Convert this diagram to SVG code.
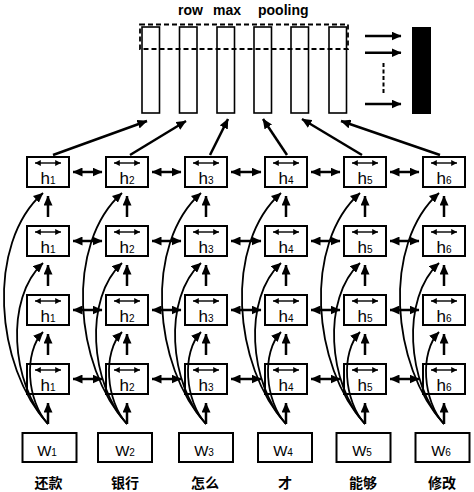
<svg xmlns="http://www.w3.org/2000/svg" width="474" height="492" viewBox="0 0 474 492">
<style>
.box{fill:#fff;stroke:#000;stroke-width:2}
.col{fill:#fff;stroke:#000;stroke-width:1.6}
.arr{fill:none;stroke:#000;stroke-width:2.5;marker-end:url(#ah)}
.dbl{fill:none;stroke:#000;stroke-width:2.5;marker-end:url(#ah);marker-start:url(#ahs)}
.inner{fill:none;stroke:#000;stroke-width:1.4;marker-end:url(#sm);marker-start:url(#sms)}
.cur{fill:none;stroke:#000;stroke-width:1.8;marker-end:url(#ah)}
.h{font-family:"Liberation Sans",Arial,sans-serif;font-size:17px;text-anchor:middle}
.w{font-family:"Liberation Sans",Arial,sans-serif;font-size:15px;text-anchor:middle}
.sub{font-size:10px}
.zh{font-family:"Noto Sans CJK SC",sans-serif;font-size:14px;font-weight:bold;text-anchor:middle}
.title{font-family:"Liberation Sans",Arial,sans-serif;font-size:14px;font-weight:bold}
</style>
<defs>
<marker id="ah" markerUnits="userSpaceOnUse" markerWidth="10" markerHeight="9" viewBox="0 0 10 9" refX="9.5" refY="4.5" orient="auto"><path d="M0,0 L10,4.5 L0,9 z" fill="#000"/></marker>
<marker id="ahs" markerUnits="userSpaceOnUse" markerWidth="10" markerHeight="9" viewBox="0 0 10 9" refX="9.5" refY="4.5" orient="auto-start-reverse"><path d="M0,0 L10,4.5 L0,9 z" fill="#000"/></marker>
<marker id="sm" markerUnits="userSpaceOnUse" markerWidth="6" markerHeight="6" viewBox="0 0 6 6" refX="5.8" refY="3" orient="auto"><path d="M0,0 L6,3 L0,6 z" fill="#000"/></marker>
<marker id="sms" markerUnits="userSpaceOnUse" markerWidth="6" markerHeight="6" viewBox="0 0 6 6" refX="5.8" refY="3" orient="auto-start-reverse"><path d="M0,0 L6,3 L0,6 z" fill="#000"/></marker>
</defs>

<text class="title" y="15"><tspan x="178">row</tspan><tspan x="213">max</tspan><tspan x="258">pooling</tspan></text>

<g id="pooling">
<rect class="col" x="142" y="27" width="17.5" height="86"/>
<rect class="col" x="179.5" y="27" width="17.5" height="86"/>
<rect class="col" x="217" y="27" width="17.5" height="86"/>
<rect class="col" x="254" y="27" width="17.5" height="86"/>
<rect class="col" x="291" y="27" width="17.5" height="86"/>
<rect class="col" x="329" y="27" width="17.5" height="86"/>
<rect x="140" y="24.5" width="208" height="24.5" fill="none" stroke="#000" stroke-width="1.8" stroke-dasharray="5,3"/>
</g>

<g id="output">
<rect x="412" y="27" width="19" height="87" fill="#000"/>
</g>

<g id="h-layer4">
<g id="h4-1"><rect class="box" x="27" y="157" width="42" height="30"/><text class="h" x="48" y="184">h<tspan class="sub">1</tspan></text></g>
<g id="h4-2"><rect class="box" x="106" y="157" width="42" height="30"/><text class="h" x="127" y="184">h<tspan class="sub">2</tspan></text></g>
<g id="h4-3"><rect class="box" x="185" y="157" width="42" height="30"/><text class="h" x="206" y="184">h<tspan class="sub">3</tspan></text></g>
<g id="h4-4"><rect class="box" x="265" y="157" width="42" height="30"/><text class="h" x="286" y="184">h<tspan class="sub">4</tspan></text></g>
<g id="h4-5"><rect class="box" x="344" y="157" width="42" height="30"/><text class="h" x="365" y="184">h<tspan class="sub">5</tspan></text></g>
<g id="h4-6"><rect class="box" x="423" y="157" width="42" height="30"/><text class="h" x="444" y="184">h<tspan class="sub">6</tspan></text></g>
</g>
<g id="h-layer3">
<g id="h3-1"><rect class="box" x="27" y="226" width="42" height="30"/><text class="h" x="48" y="253">h<tspan class="sub">1</tspan></text></g>
<g id="h3-2"><rect class="box" x="106" y="226" width="42" height="30"/><text class="h" x="127" y="253">h<tspan class="sub">2</tspan></text></g>
<g id="h3-3"><rect class="box" x="185" y="226" width="42" height="30"/><text class="h" x="206" y="253">h<tspan class="sub">3</tspan></text></g>
<g id="h3-4"><rect class="box" x="265" y="226" width="42" height="30"/><text class="h" x="286" y="253">h<tspan class="sub">4</tspan></text></g>
<g id="h3-5"><rect class="box" x="344" y="226" width="42" height="30"/><text class="h" x="365" y="253">h<tspan class="sub">5</tspan></text></g>
<g id="h3-6"><rect class="box" x="423" y="226" width="42" height="30"/><text class="h" x="444" y="253">h<tspan class="sub">6</tspan></text></g>
</g>
<g id="h-layer2">
<g id="h2-1"><rect class="box" x="27" y="295" width="42" height="30"/><text class="h" x="48" y="322">h<tspan class="sub">1</tspan></text></g>
<g id="h2-2"><rect class="box" x="106" y="295" width="42" height="30"/><text class="h" x="127" y="322">h<tspan class="sub">2</tspan></text></g>
<g id="h2-3"><rect class="box" x="185" y="295" width="42" height="30"/><text class="h" x="206" y="322">h<tspan class="sub">3</tspan></text></g>
<g id="h2-4"><rect class="box" x="265" y="295" width="42" height="30"/><text class="h" x="286" y="322">h<tspan class="sub">4</tspan></text></g>
<g id="h2-5"><rect class="box" x="344" y="295" width="42" height="30"/><text class="h" x="365" y="322">h<tspan class="sub">5</tspan></text></g>
<g id="h2-6"><rect class="box" x="423" y="295" width="42" height="30"/><text class="h" x="444" y="322">h<tspan class="sub">6</tspan></text></g>
</g>
<g id="h-layer1">
<g id="h1-1"><rect class="box" x="27" y="364" width="42" height="30"/><text class="h" x="48" y="391">h<tspan class="sub">1</tspan></text></g>
<g id="h1-2"><rect class="box" x="106" y="364" width="42" height="30"/><text class="h" x="127" y="391">h<tspan class="sub">2</tspan></text></g>
<g id="h1-3"><rect class="box" x="185" y="364" width="42" height="30"/><text class="h" x="206" y="391">h<tspan class="sub">3</tspan></text></g>
<g id="h1-4"><rect class="box" x="265" y="364" width="42" height="30"/><text class="h" x="286" y="391">h<tspan class="sub">4</tspan></text></g>
<g id="h1-5"><rect class="box" x="344" y="364" width="42" height="30"/><text class="h" x="365" y="391">h<tspan class="sub">5</tspan></text></g>
<g id="h1-6"><rect class="box" x="423" y="364" width="42" height="30"/><text class="h" x="444" y="391">h<tspan class="sub">6</tspan></text></g>
</g>

<g id="inputs">
<g id="w1"><rect class="box" x="22.5" y="433" width="54" height="29"/><text class="w" x="47" y="456">W<tspan class="sub">1</tspan></text><text class="zh" x="48.5" y="488">还款</text></g>
<g id="w2"><rect class="box" x="98" y="433" width="54" height="29"/><text class="w" x="125" y="456">W<tspan class="sub">2</tspan></text><text class="zh" x="125" y="488">银行</text></g>
<g id="w3"><rect class="box" x="179" y="433" width="54" height="29"/><text class="w" x="204" y="456">W<tspan class="sub">3</tspan></text><text class="zh" x="205" y="488">怎么</text></g>
<g id="w4"><rect class="box" x="258" y="433" width="54" height="29"/><text class="w" x="283" y="456">W<tspan class="sub">4</tspan></text><text class="zh" x="285" y="488">才</text></g>
<g id="w5"><rect class="box" x="336.5" y="433" width="54" height="29"/><text class="w" x="362" y="456">W<tspan class="sub">5</tspan></text><text class="zh" x="363" y="488">能够</text></g>
<g id="w6"><rect class="box" x="415.5" y="433" width="54" height="29"/><text class="w" x="441" y="456">W<tspan class="sub">6</tspan></text><text class="zh" x="442" y="488">修改</text></g>
</g>

<g id="connectors">
<g id="inner">
<path class="inner" d="M35,163 H61"/><path class="inner" d="M114,163 H140"/><path class="inner" d="M193,163 H219"/><path class="inner" d="M273,163 H299"/><path class="inner" d="M352,163 H378"/><path class="inner" d="M431,163 H457"/>
<path class="inner" d="M35,232 H61"/><path class="inner" d="M114,232 H140"/><path class="inner" d="M193,232 H219"/><path class="inner" d="M273,232 H299"/><path class="inner" d="M352,232 H378"/><path class="inner" d="M431,232 H457"/>
<path class="inner" d="M35,301 H61"/><path class="inner" d="M114,301 H140"/><path class="inner" d="M193,301 H219"/><path class="inner" d="M273,301 H299"/><path class="inner" d="M352,301 H378"/><path class="inner" d="M431,301 H457"/>
<path class="inner" d="M35,370 H61"/><path class="inner" d="M114,370 H140"/><path class="inner" d="M193,370 H219"/><path class="inner" d="M273,370 H299"/><path class="inner" d="M352,370 H378"/><path class="inner" d="M431,370 H457"/>
</g>
<g id="horizontal">
<path class="dbl" d="M73,172 H102"/><path class="dbl" d="M152,172 H181"/><path class="dbl" d="M231,172 H261"/><path class="dbl" d="M311,172 H340"/><path class="dbl" d="M390,172 H419"/>
<path class="dbl" d="M73,241 H102"/><path class="dbl" d="M152,241 H181"/><path class="dbl" d="M231,241 H261"/><path class="dbl" d="M311,241 H340"/><path class="dbl" d="M390,241 H419"/>
<path class="dbl" d="M73,310 H102"/><path class="dbl" d="M152,310 H181"/><path class="dbl" d="M231,310 H261"/><path class="dbl" d="M311,310 H340"/><path class="dbl" d="M390,310 H419"/>
<path class="dbl" d="M73,379 H102"/><path class="dbl" d="M152,379 H181"/><path class="dbl" d="M231,379 H261"/><path class="dbl" d="M311,379 H340"/><path class="dbl" d="M390,379 H419"/>
</g>
<g id="vertical">
<path class="arr" d="M48,424 V403"/><path class="arr" d="M48,355 V334"/><path class="arr" d="M48,286 V265"/><path class="arr" d="M48,217 V196"/>
<path class="arr" d="M127,424 V403"/><path class="arr" d="M127,355 V334"/><path class="arr" d="M127,286 V265"/><path class="arr" d="M127,217 V196"/>
<path class="arr" d="M206,424 V403"/><path class="arr" d="M206,355 V334"/><path class="arr" d="M206,286 V265"/><path class="arr" d="M206,217 V196"/>
<path class="arr" d="M286,424 V403"/><path class="arr" d="M286,355 V334"/><path class="arr" d="M286,286 V265"/><path class="arr" d="M286,217 V196"/>
<path class="arr" d="M365,424 V403"/><path class="arr" d="M365,355 V334"/><path class="arr" d="M365,286 V265"/><path class="arr" d="M365,217 V196"/>
<path class="arr" d="M444,424 V403"/><path class="arr" d="M444,355 V334"/><path class="arr" d="M444,286 V265"/><path class="arr" d="M444,217 V196"/>
</g>
<g id="skip">
<path class="cur" d="M48,424 C26.9,401 23.2,352.2 43,332"/>
<path class="cur" d="M48,424 C11,383.75 4.5,298.4 43,263"/>
<path class="cur" d="M48,424 C-5,366.25 -14.4,243.8 43,193"/>
<path class="cur" d="M127,424 C105.9,401 102.2,352.2 122,332"/>
<path class="cur" d="M127,424 C90,383.75 83.5,298.4 122,263"/>
<path class="cur" d="M127,424 C74,366.25 64.6,243.8 122,193"/>
<path class="cur" d="M206,424 C184.9,401 181.2,352.2 201,332"/>
<path class="cur" d="M206,424 C169,383.75 162.5,298.4 201,263"/>
<path class="cur" d="M206,424 C153,366.25 143.6,243.8 201,193"/>
<path class="cur" d="M286,424 C264.9,401 261.2,352.2 281,332"/>
<path class="cur" d="M286,424 C249,383.75 242.5,298.4 281,263"/>
<path class="cur" d="M286,424 C233,366.25 223.6,243.8 281,193"/>
<path class="cur" d="M365,424 C343.9,401 340.2,352.2 360,332"/>
<path class="cur" d="M365,424 C328,383.75 321.5,298.4 360,263"/>
<path class="cur" d="M365,424 C312,366.25 302.6,243.8 360,193"/>
<path class="cur" d="M444,424 C422.9,401 419.2,352.2 439,332"/>
<path class="cur" d="M444,424 C407,383.75 400.5,298.4 439,263"/>
<path class="cur" d="M444,424 C391,366.25 381.6,243.8 439,193"/>
</g>
<g id="to-pool">
<path class="arr" d="M53,155 L147,121"/>
<path class="arr" d="M130,155 L186,121"/>
<path class="arr" d="M210,155 L228,119"/>
<path class="arr" d="M287,155 L263,119"/>
<path class="arr" d="M362,155 L302,119"/>
<path class="arr" d="M440,155 L341,121"/>
</g>
<g id="to-output">
<path class="arr" d="M365,36 H401"/>
<path class="arr" d="M365,52.7 H401"/>
<path class="arr" d="M365,104 H401"/>
<path d="M383.5,63 V94" stroke="#000" stroke-width="2" stroke-dasharray="4,2.5" fill="none"/>
</g>
</g>
</svg>
